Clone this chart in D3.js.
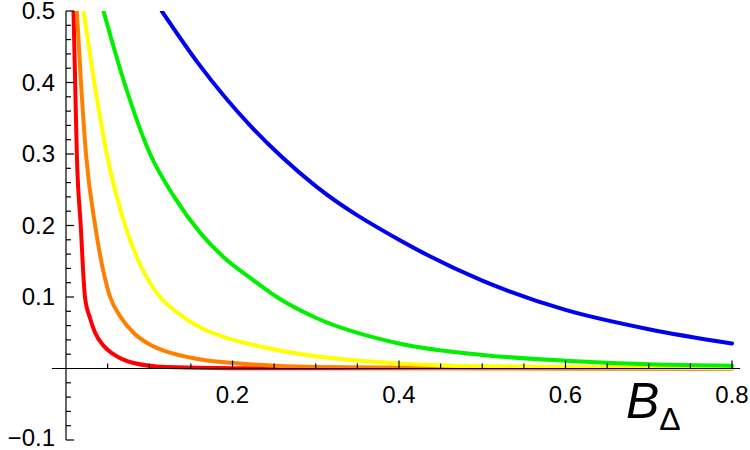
<!DOCTYPE html>
<html><head><meta charset="utf-8">
<script src="https://cdn.jsdelivr.net/npm/d3@7"></script>
<style>body{margin:0;background:#fff}text{font-family:"Liberation Sans",Arial,sans-serif}</style>
</head><body>
<svg width="750" height="450"></svg>
<script>
var colors = ["#ff0000", "#ff8000", "#ffff00", "#00f000", "#0000f0"];
var redPts = [[0.009,0.5],[0.011,0.4],[0.013,0.3],[0.0177,0.2],[0.0228,0.1],[0.029,0.07],[0.035,0.05],[0.045,0.032],[0.057,0.02],[0.08,0.008],[0.12,0.002],[0.2,0.0005],[0.8,0]];
var orangePts = [[0.013,0.5],[0.018,0.4],[0.024,0.3],[0.035,0.2],[0.053,0.1],[0.065,0.073],[0.081,0.05],[0.1,0.034],[0.12,0.024],[0.16,0.013],[0.22,0.006],[0.3,0.002],[0.5,0.0005],[0.8,0]];
var yellowPts = [[0.021,0.5],[0.034,0.4],[0.049,0.3],[0.071,0.2],[0.09,0.143],[0.113,0.1],[0.135,0.077],[0.16,0.058],[0.19,0.044],[0.221,0.034],[0.3,0.017],[0.4,0.007],[0.5,0.003],[0.8,0.0005]];
var greenPts = [[0.045,0.5],[0.07,0.4],[0.101,0.3],[0.13,0.24],[0.161,0.19],[0.19,0.155],[0.221,0.127],[0.26,0.095],[0.3,0.071],[0.4,0.035],[0.5,0.019],[0.6,0.011],[0.7,0.006],[0.8,0.004]];
var bluePts = [[0.115,0.5],[0.16,0.425],[0.221,0.34],[0.26,0.295],[0.3,0.255],[0.4,0.18],[0.5,0.123],[0.6,0.082],[0.7,0.055],[0.8,0.035]];
var series = [redPts, orangePts, yellowPts, greenPts, bluePts];
var xTickLabels = [0.2, 0.4, 0.6, 0.8];
var yTickLabels = [-0.1, 0.1, 0.2, 0.3, 0.4, 0.5];

var svg = d3.select("svg");
var x = d3.scaleLinear().domain([0, 0.8]).range([66, 732]);
var y = d3.scaleLinear().domain([-0.1, 0.5]).range([440, 11]);

svg.append("clipPath").attr("id", "c").append("rect")
  .attr("x", 66).attr("y", 11).attr("width", 670).attr("height", 429);

var line = d3.line().x(d => x(d[0])).y(d => y(d[1])).curve(d3.curveMonotoneX);

var g = svg.append("g").attr("clip-path", "url(#c)");
series.forEach((s, i) => {
  g.append("path").attr("d", line(s)).attr("fill", "none")
    .attr("stroke", colors[i]).attr("stroke-width", 4).attr("stroke-linecap", "round");
});

// axes
var ax = svg.append("g").attr("stroke", "#000").attr("stroke-width", 1.2);
ax.append("line").attr("x1", 52).attr("x2", 740).attr("y1", y(0)).attr("y2", y(0));
ax.append("line").attr("x1", x(0)).attr("x2", x(0)).attr("y1", y(0.5)).attr("y2", y(-0.1));
d3.range(1, 17).forEach(i => {
  var v = i * 0.05, major = i % 4 === 0;
  ax.append("line").attr("x1", x(v)).attr("x2", x(v)).attr("y1", y(0)).attr("y2", y(0) - (major ? 8 : 5));
});
d3.range(-5, 26).forEach(i => {
  if (i === 0) return;
  var v = i * 0.02, major = i % 5 === 0;
  ax.append("line").attr("x1", x(0)).attr("x2", x(0) + (major ? 8 : 5)).attr("y1", y(v)).attr("y2", y(v));
});

svg.selectAll(".xl").data(xTickLabels).enter().append("text")
  .attr("x", d => x(d)).attr("y", y(0) + 34).attr("text-anchor", "middle")
  .attr("font-size", 24).text(d => d3.format(".1f")(d));
svg.selectAll(".yl").data(yTickLabels).enter().append("text")
  .attr("x", 55).attr("y", d => Math.min(y(d) + 8, 446)).attr("text-anchor", "end")
  .attr("font-size", 24).text(d => d < 0 ? "\u22120.1" : d3.format(".1f")(d));

var lab = svg.append("text").attr("x", 626).attr("y", 418).attr("font-size", 50);
lab.append("tspan").attr("font-style", "italic").text("B");
lab.append("tspan").attr("font-size", 32).attr("dy", 12).text("\u0394");
</script>
</body></html>
